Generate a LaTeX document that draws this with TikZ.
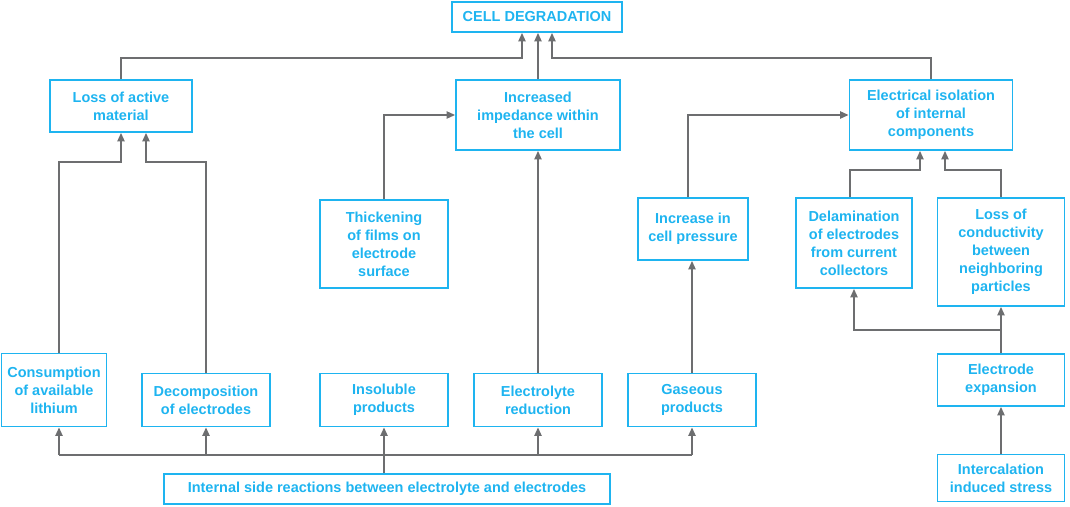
\documentclass[tikz,border=0pt]{standalone}
\usepackage{fontspec}
\setmainfont{Liberation Sans}
\usetikzlibrary{arrows.meta}
\definecolor{bc}{HTML}{1EB4F0}
\definecolor{lc}{HTML}{6D6E70}
\begin{document}
\begin{tikzpicture}[x=0.025cm,y=-0.025cm,
 box/.style 2 args={draw=bc,line width=1.2pt,text=bc,font=\bfseries\fontsize{10.3}{12.8}\selectfont,align=center,inner sep=0pt,minimum width=#1*0.025cm,minimum height=#2*0.025cm},
 ar/.style={draw=lc,line width=1.3pt,-{Triangle[length=6pt,width=5pt]}},
 ln/.style={draw=lc,line width=1.3pt}]
\useasboundingbox (0,0) rectangle (1070,506);
\node[box={170}{30}] (cd) at (537,17) {CELL DEGRADATION};
\node[box={142}{52}] (la) at (121,106) {Loss of active\\material};
\node[box={164}{70}] (ii) at (538,115) {Increased\\impedance within\\the cell};
\node[box={163}{70}] (ei) at (931,115) {Electrical isolation\\of internal\\components};
\node[box={128}{88}] (th) at (384,244) {Thickening\\of films on\\electrode\\surface};
\node[box={110}{62}] (cp) at (693,229) {Increase in\\cell pressure};
\node[box={116}{90}] (de) at (854,243) {Delamination\\of electrodes\\from current\\collectors};
\node[box={127}{108}] (lc) at (1001,252) {Loss of\\conductivity\\between\\neighboring\\particles};
\node[box={105}{73}] (co) at (54,390) {Consumption\\of available\\lithium};
\node[box={128}{53}] (dc) at (206,400) {Decomposition\\of electrodes};
\node[box={128}{53}] (in) at (384,400) {Insoluble\\products};
\node[box={128}{53}] (er) at (538,400) {Electrolyte\\reduction};
\node[box={128}{53}] (gp) at (692,400) {Gaseous\\products};
\node[box={127}{52}] (ee) at (1001,380) {Electrode\\expansion};
\node[box={127}{47}] (ic) at (1001,478) {Intercalation\\induced stress};
\node[box={446}{30}] (sr) at (387,489) {Internal side reactions between electrolyte and electrodes};
% top level
\draw[ar] (la.north) |- (522,58) -- (cd.south -| 522,0);
\draw[ar] (ii.north) -- (cd.south -| ii.north);
\draw[ar] (ei.north) |- (552,58) -- (cd.south -| 552,0);
% loss of active
\draw[ar] (co.north -| 59,0) |- (121,162) -- (la.south -| 121,0);
\draw[ar] (dc.north) |- (146,162) -- (la.south -| 146,0);
% impedance
\draw[ar] (th.north) |- (ii.west);
\draw[ar] (er.north) -- (ii.south -| er.north);
% pressure
\draw[ar] (gp.north) -- (cp.south -| gp.north);
\draw[ar] (cp.north -| 688,0) |- (ei.west);
% isolation
\draw[ar] (de.north -| 850,0) |- (920,170) -- (ei.south -| 920,0);
\draw[ar] (lc.north) |- (945,170) -- (ei.south -| 945,0);
% expansion
\draw[ar] (ee.north) -- (lc.south);
\draw[ar] (1001,330) -| (de.south);
\draw[ar] (ic.north) -- (ee.south);
% side reactions
\draw[ar] (sr.north -| in.south) -- (in.south);
\draw[ln] (59,455) -- (692,455);
\draw[ar] (59,455) -- (co.south -| 59,0);
\draw[ar] (206,455) -- (dc.south);
\draw[ar] (538,455) -- (er.south);
\draw[ar] (692,455) -- (gp.south);
\end{tikzpicture}
\end{document}
